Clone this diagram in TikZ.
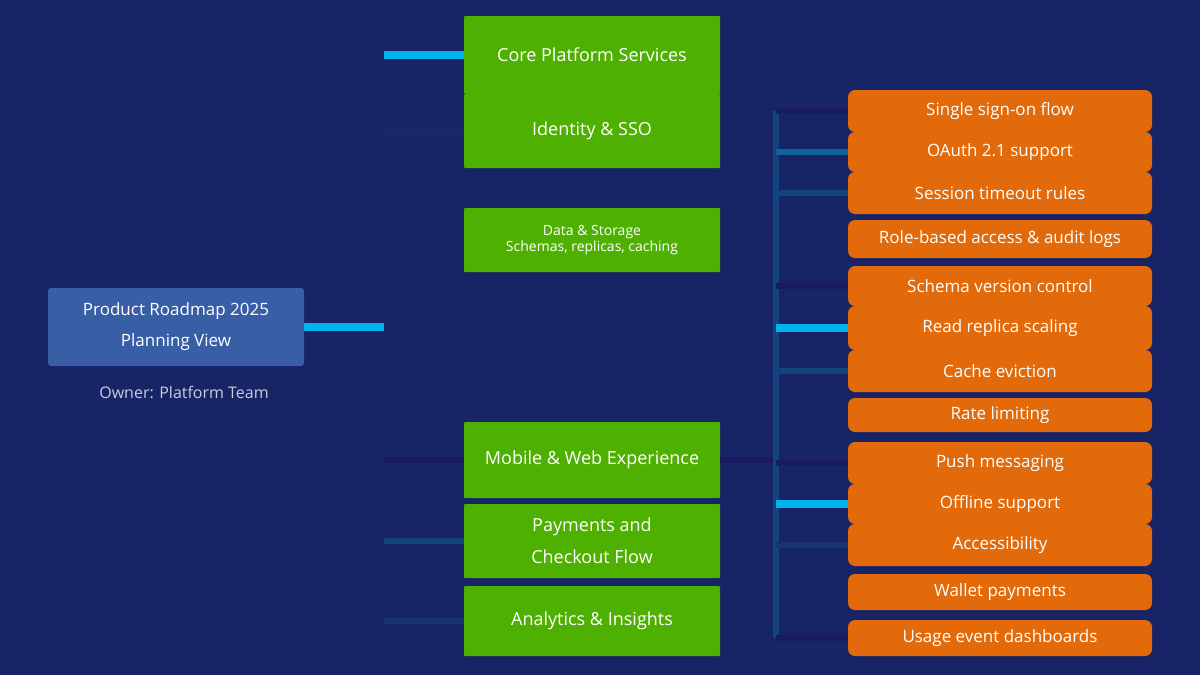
\documentclass[tikz,border=0pt]{standalone}
\usepackage{fontspec}
\setmainfont{Open Sans}
\definecolor{bg}{RGB}{23,37,103}
\definecolor{rootc}{RGB}{56,94,165}
\definecolor{grn}{RGB}{78,176,0}
\definecolor{org}{RGB}{226,106,10}
\definecolor{hi}{RGB}{0,180,238}
\definecolor{mid}{RGB}{16,100,155}
\definecolor{low}{RGB}{20,68,128}
\definecolor{lowb}{RGB}{24,52,112}
\definecolor{dim}{RGB}{26,26,98}
\definecolor{faint}{RGB}{25,38,106}
\definecolor{cap}{RGB}{200,205,222}
\begin{document}
\begin{tikzpicture}[x=1pt,y=-1pt,
  rootbox/.style={fill=rootc, rounded corners=3pt, minimum width=256pt, minimum height=78pt, text=white, align=center, font=\fontsize{17}{31}\selectfont, inner sep=0pt},
  gbox/.style={fill=grn, minimum width=256pt, text=white, align=center, font=\fontsize{18}{22}\selectfont, inner sep=0pt, rounded corners=1pt},
  obox/.style={fill=org, minimum width=304pt, text=white, align=center, font=\fontsize{17}{18}\selectfont, inner sep=0pt, rounded corners=7pt},
  captext/.style={text=cap, font=\fontsize{16}{18}\selectfont, inner sep=0pt},
  conn/.style={line width=6pt},
  hiconn/.style={line width=8pt, draw=hi},
]
\useasboundingbox (0,0) rectangle (1200,675);
\fill[bg] (0,0) rectangle (1200,675);

% root
\node[rootbox] (root) at (176,327) {Product Roadmap 2025\\Planning View};
\node[captext] (cap) at (184,392) {Owner: Platform Team};

% green column
\node[gbox, minimum height=78pt] (g1a) at (592,55) {Core Platform Services};
\node[gbox, minimum height=74pt] (g1b) at (592,131) {Identity \& SSO};
\node[gbox, minimum height=64pt, font=\fontsize{14}{16}\selectfont] (g2) at (592,240) {Data \& Storage\\Schemas, replicas, caching};
\node[gbox, minimum height=76pt] (g3) at (592,460) {Mobile \& Web Experience};
\node[gbox, minimum height=74pt, font=\fontsize{18}{32}\selectfont] (g4) at (592,541) {Payments and\\Checkout Flow};
\node[gbox, minimum height=70pt] (g5) at (592,621) {Analytics \& Insights};

% orange column
\node[obox, minimum height=42pt] (a1) at (1000,111) {Single sign-on flow};
\node[obox, minimum height=40pt] (a2) at (1000,152) {OAuth 2.1 support};
\node[obox, minimum height=42pt] (a3) at (1000,193) {Session timeout rules};
\node[obox, minimum height=38pt] (b)  at (1000,239) {Role-based access \& audit logs};
\node[obox, minimum height=40pt] (c1) at (1000,286) {Schema version control};
\node[obox, minimum height=44pt] (c2) at (1000,328) {Read replica scaling};
\node[obox, minimum height=42pt] (c3) at (1000,371) {Cache eviction};
\node[obox, minimum height=34pt] (d)  at (1000,415) {Rate limiting};
\node[obox, minimum height=42pt] (e1) at (1000,463) {Push messaging};
\node[obox, minimum height=40pt] (e2) at (1000,504) {Offline support};
\node[obox, minimum height=42pt] (e3) at (1000,545) {Accessibility};
\node[obox, minimum height=36pt] (f)  at (1000,592) {Wallet payments};
\node[obox, minimum height=36pt] (gg) at (1000,638) {Usage event dashboards};

% left connectors
\coordinate (lt) at (384,327);
\draw[line width=3pt, draw=faint] (lt |- g1a.west) -- (lt |- g5.west);
\draw[hiconn] (root.east) -- (lt);
\draw[hiconn] (lt |- g1a.west) -- (g1a.west);
\draw[conn, draw=faint] (lt |- g1b.west) -- (g1b.west);
\draw[conn, draw=faint] (lt |- g2.west) -- (g2.west);
\draw[conn, draw=dim] (lt |- g3.west) -- (g3.west);
\draw[conn, draw=low] (lt |- g4.west) -- (g4.west);
\draw[conn, draw=lowb] (lt |- g5.west) -- (g5.west);

% right connectors
\coordinate (rt) at (776,460);
\draw[conn, draw=dim] (g3.east) -- (rt);
\draw[conn, draw=low] (rt |- a1.west) -- (rt |- gg.west);
\draw[conn, draw=dim] (rt |- a1.west) -- (a1.west);
\draw[conn, draw=mid] (rt |- a2.west) -- (a2.west);
\draw[conn, draw=low] (rt |- a3.west) -- (a3.west);
\draw[conn, draw=dim] (rt |- c1.west) -- (c1.west);
\draw[hiconn] (rt |- c2.west) -- (c2.west);
\draw[conn, draw=low] (rt |- c3.west) -- (c3.west);
\draw[conn, draw=dim] (rt |- e1.west) -- (e1.west);
\draw[hiconn] (rt |- e2.west) -- (e2.west);
\draw[conn, draw=lowb] (rt |- e3.west) -- (e3.west);
\draw[conn, draw=dim] (rt |- gg.west) -- (gg.west);
\end{tikzpicture}
\end{document}
